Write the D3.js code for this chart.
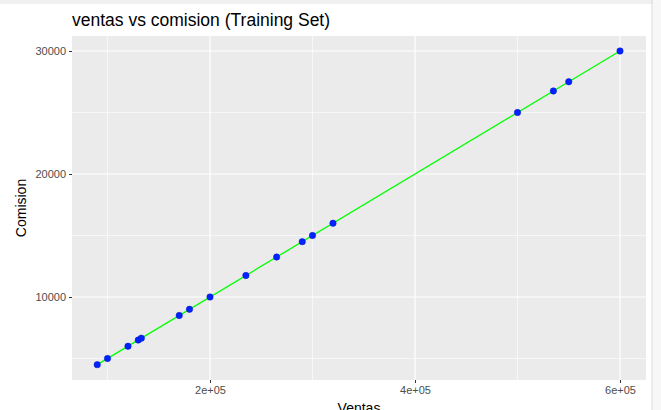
<!DOCTYPE html>
<html><head><meta charset="utf-8">
<script src="https://cdn.jsdelivr.net/npm/d3@7"></script>
<style>body{margin:0;background:#fff}text{font-family:"Liberation Sans",Arial,sans-serif}</style>
</head><body>
<svg id="c" width="661" height="410"></svg>
<script>
var ventas   = [90000, 100000, 120000, 130000, 133000, 170000, 180000, 200000, 235000, 265000, 290000, 300000, 320000, 500000, 535000, 550000, 600000]
var comision = [4500, 5000, 6000, 6500, 6650, 8500, 9000, 10000, 11750, 13250, 14500, 15000, 16000, 25000, 26750, 27500, 30000]
var fitLine = [[90000, 4500], [600000, 30000]]
var xTicks = [2e5, 4e5, 6e5], xMinor = [1e5, 3e5, 5e5]
var yTicks = [10000, 20000, 30000], yMinor = [5000, 15000, 25000]

var svg = d3.select('#c')
var L = 72, R = 646, T = 36, B = 380
var x = d3.scaleLinear().domain([65366, 625366]).range([L, R])
var y = d3.scaleLinear().domain([3252, 31220]).range([B, T])

// browser chrome remnants
svg.append('rect').attr('x', 0).attr('y', 0).attr('width', 661).attr('height', 4).attr('fill', '#f0f0f0')
svg.append('line').attr('x1', 652).attr('x2', 652).attr('y1', 0).attr('y2', 410).attr('stroke', '#d8d8d8')
svg.append('rect').attr('x', 653).attr('y', 0).attr('width', 8).attr('height', 410).attr('fill', '#f7f7f7')

svg.append('rect').attr('x', L).attr('y', T).attr('width', R - L).attr('height', B - T).attr('fill', '#ebebeb')

var g = svg.append('g')
xMinor.forEach(v => g.append('line').attr('x1', x(v)).attr('x2', x(v)).attr('y1', T).attr('y2', B).attr('stroke', '#fff').attr('stroke-width', 0.6))
yMinor.forEach(v => g.append('line').attr('y1', y(v)).attr('y2', y(v)).attr('x1', L).attr('x2', R).attr('stroke', '#fff').attr('stroke-width', 0.6))
xTicks.forEach(v => g.append('line').attr('x1', x(v)).attr('x2', x(v)).attr('y1', T).attr('y2', B).attr('stroke', '#fff').attr('stroke-width', 1.2))
yTicks.forEach(v => g.append('line').attr('y1', y(v)).attr('y2', y(v)).attr('x1', L).attr('x2', R).attr('stroke', '#fff').attr('stroke-width', 1.2))

svg.append('g').attr('transform', `translate(0,${B})`)
  .call(d3.axisBottom(x).tickValues(xTicks).tickSize(3).tickPadding(3).tickFormat(d => (d / 1e5 | 0) + 'e+05'))
  .call(a => a.select('.domain').remove())
  .call(a => a.selectAll('line').attr('stroke', '#333'))
  .call(a => a.selectAll('text').attr('fill', '#4d4d4d').style('font-size', '11px'))
svg.append('g').attr('transform', `translate(${L},0)`)
  .call(d3.axisLeft(y).tickValues(yTicks).tickSize(3).tickPadding(3).tickFormat(d3.format('d')))
  .call(a => a.select('.domain').remove())
  .call(a => a.selectAll('line').attr('stroke', '#333'))
  .call(a => a.selectAll('text').attr('fill', '#4d4d4d').style('font-size', '11px'))

svg.append('path').datum(fitLine)
  .attr('d', d3.line().x(d => x(d[0])).y(d => y(d[1])))
  .attr('stroke', '#00ff00').attr('stroke-width', 1.3).attr('fill', 'none')

svg.selectAll('circle.p').data(ventas).join('circle')
  .attr('cx', d => x(d)).attr('cy', (d, i) => y(comision[i])).attr('r', 3.2)
  .attr('fill', '#0022ff').attr('stroke', '#0018c0').attr('stroke-width', 0.5)

svg.append('text').attr('x', L).attr('y', 26).style('font-size', '17.5px').attr('fill', '#000')
  .text('ventas vs comision (Training Set)')
svg.append('text').attr('x', (L + R) / 2).attr('y', 413).attr('text-anchor', 'middle')
  .style('font-size', '14px').text('Ventas')
svg.append('text').attr('transform', `translate(26,${(T + B) / 2}) rotate(-90)`).attr('text-anchor', 'middle')
  .style('font-size', '14px').text('Comision')
</script>
</body></html>
